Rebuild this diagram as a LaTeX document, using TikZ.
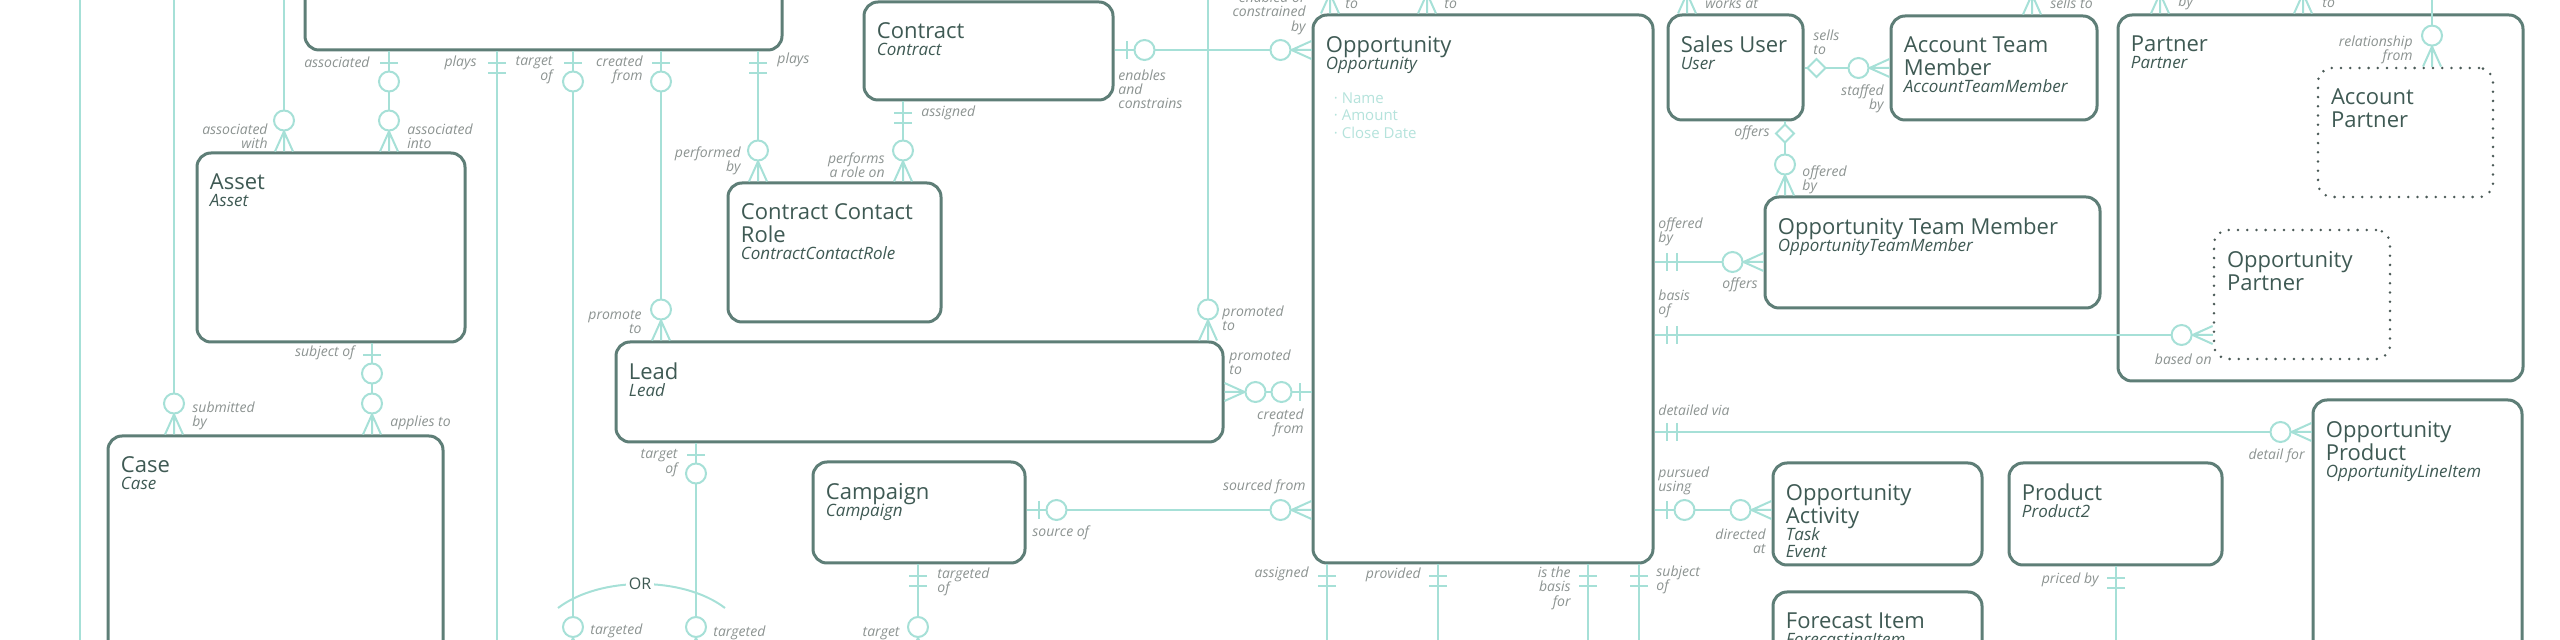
\documentclass[tikz,border=0pt]{standalone}
\usepackage{fontspec}
\setmainfont{Open Sans}
\usepackage{tikz}
\usetikzlibrary{fit,calc}
\definecolor{boxline}{HTML}{5E7E77}
\definecolor{dotline}{HTML}{4A5A57}
\definecolor{relline}{HTML}{A6E0D7}
\definecolor{labeltext}{HTML}{8C9391}
\definecolor{titletext}{HTML}{3F5A54}
\definecolor{fieldtext}{HTML}{B5E3DC}
\newcommand\api[1]{{\fontsize{8.5}{9}\selectfont\itshape #1}}

\begin{document}
\begin{tikzpicture}[
  x=0.5pt,y=-0.5pt,
  entity/.style={draw=boxline,line width=1.5pt,rounded corners=7pt,fill=white,inner sep=0pt},
  subent/.style={draw=dotline,line width=1.4pt,dash pattern=on 0pt off 4.6pt,line cap=round,rounded corners=7pt,inner sep=0pt},
  ttl/.style={anchor=north west,inner sep=0pt,align=left,text=titletext,font=\fontsize{11}{11.5}\selectfont},
  fld/.style={anchor=north west,inner sep=0pt,align=left,text=fieldtext,font=\fontsize{7.5}{8.6}\selectfont},
  rel/.style={draw=relline,line width=1pt},
  lbl/.style={inner sep=0pt,text=labeltext,font=\fontsize{7}{7.2}\selectfont\itshape},
  pics/zmany/.style={code={\draw[rel] (0,-9) -- (20,0) -- (0,9) (0,0) -- (21,0);
    \draw[rel,fill=white] (31,0) circle[radius=10];}},
  pics/zone/.style={code={\draw[rel] (12,-9) -- (12,9);
    \draw[rel,fill=white] (30,0) circle[radius=10];}},
  pics/oone/.style={code={\draw[rel] (12,-9) -- (12,9) (22,-9) -- (22,9);}},
  pics/dia/.style={code={\draw[rel,fill=white] (3,0) -- (12,-9) -- (21,0) -- (12,9) -- cycle;}}
]
\useasboundingbox (0,0) rectangle (2560,640);
\clip (0,0) rectangle (2560,640);

% entities
\node[entity,fit={(305,-40)(782,50)}] (acct) {};
\node[entity,fit={(197,153)(465,342)}] (asset) {};
\node[entity,fit={(108,436)(443,690)}] (case) {};
\node[entity,fit={(728,183)(941,322)}] (ccr) {};
\node[entity,fit={(864,2)(1113,100)}] (contract) {};
\node[entity,fit={(616,342)(1223,442)}] (lead) {};
\node[entity,fit={(813,462)(1025,563)}] (campaign) {};
\node[entity,fit={(1313,15)(1653,563)}] (opp) {};
\node[entity,fit={(1668,15)(1803,120)}] (suser) {};
\node[entity,fit={(1891,16)(2097,120)}] (atm) {};
\node[entity,fit={(1765,197)(2100,308)}] (otm) {};
\node[entity,fit={(2118,15)(2523,381)}] (partner) {};
\node[subent,fit={(2318,68)(2493,197)}] (apartner) {};
\node[subent,fit={(2214,230)(2390,359)}] (opartner) {};
\node[entity,fit={(2313,400)(2522,690)}] (oppprod) {};
\node[entity,fit={(1773,463)(1982,565)}] (oppact) {};
\node[entity,fit={(2009,463)(2222,565)}] (product) {};
\node[entity,fit={(1773,592)(1982,700)}] (fcitem) {};

% titles
\node[ttl] (asset-t) at ([shift={(14,22)}]asset.north west) {Asset\\[-3pt]\api{Asset}};
\node[ttl] (case-t) at ([shift={(14,22)}]case.north west) {Case\\[-3pt]\api{Case}};
\node[ttl] (ccr-t) at ([shift={(14,22)}]ccr.north west) {Contract Contact\\Role\\[-3pt]\api{ContractContactRole}};
\node[ttl] (contract-t) at ([shift={(14,22)}]contract.north west) {Contract\\[-3pt]\api{Contract}};
\node[ttl] (lead-t) at ([shift={(14,22)}]lead.north west) {Lead\\[-3pt]\api{Lead}};
\node[ttl] (campaign-t) at ([shift={(14,22)}]campaign.north west) {Campaign\\[-3pt]\api{Campaign}};
\node[ttl] (opp-t) at ([shift={(14,22)}]opp.north west) {Opportunity\\[-3pt]\api{Opportunity}};
\node[fld] (opp-f) at ([shift={(22,79)}]opp.north west) {· Name\\· Amount\\· Close Date};
\node[ttl] (suser-t) at ([shift={(14,22)}]suser.north west) {Sales User\\[-3pt]\api{User}};
\node[ttl] (atm-t) at ([shift={(14,22)}]atm.north west) {Account Team\\Member\\[-3pt]\api{AccountTeamMember}};
\node[ttl] (otm-t) at ([shift={(14,22)}]otm.north west) {Opportunity Team Member\\[-3pt]\api{OpportunityTeamMember}};
\node[ttl] (partner-t) at ([shift={(14,22)}]partner.north west) {Partner\\[-3pt]\api{Partner}};
\node[ttl] (apartner-t) at ([shift={(14,22)}]apartner.north west) {Account\\Partner};
\node[ttl] (opartner-t) at ([shift={(14,22)}]opartner.north west) {Opportunity\\Partner};
\node[ttl] (oppprod-t) at ([shift={(14,22)}]oppprod.north west) {Opportunity\\Product\\[-3pt]\api{OpportunityLineItem}};
\node[ttl] (oppact-t) at ([shift={(14,22)}]oppact.north west) {Opportunity\\Activity\\[-3pt]\api{Task}\\[-3pt]\api{Event}};
\node[ttl] (product-t) at ([shift={(14,22)}]product.north west) {Product\\[-3pt]\api{Product2}};
\node[ttl] (fcitem-t) at ([shift={(14,22)}]fcitem.north west) {Forecast Item\\[-3pt]\api{ForecastingItem}};

% free ends
\coordinate (top80) at (80,-10);   \coordinate (bot80) at (80,660);
\coordinate (top174) at (174,-10); \coordinate (top284) at (284,-10);
\coordinate (bot497) at (497,660); \coordinate (bot573) at (573,660);
\coordinate (bot696) at (696,660); \coordinate (bot918) at (918,660);
\coordinate (top1208) at (1208,-10);
\coordinate (top1330) at (1330,-10); \coordinate (top1427) at (1427,-10);
\coordinate (bot1327) at (1327,660); \coordinate (bot1438) at (1438,660);
\coordinate (bot1588) at (1588,660); \coordinate (bot1639) at (1639,660);
\coordinate (top1687) at (1687,-10); \coordinate (top2032) at (2032,-10);
\coordinate (top2160) at (2160,-10); \coordinate (top2303) at (2303,-10);
\coordinate (top2432) at (2432,-10); \coordinate (bot2116) at (2116,660);

% connectors
\draw[rel] (top80) -- (bot80);
\draw[rel] (top174) -- (174,0 |- case.north);
\draw[rel] (top284) -- (284,0 |- asset.north);
\draw[rel] (389,0 |- acct.south) -- (389,0 |- asset.north);
\draw[rel] (372,0 |- asset.south) -- (372,0 |- case.north);
\draw[rel] (497,0 |- acct.south) -- (bot497);
\draw[rel] (573,0 |- acct.south) -- (bot573);
\draw[rel] (661,0 |- acct.south) -- (661,0 |- lead.north);
\draw[rel] (758,0 |- acct.south) -- (758,0 |- ccr.north);
\draw[rel] (903,0 |- contract.south) -- (903,0 |- ccr.north);
\draw[rel] (top1208) -- (1208,0 |- lead.north);
\draw[rel] (0,50 -| contract.east) -- (0,50 -| opp.west);
\draw[rel] (0,392 -| lead.east) -- (0,392 -| opp.west);
\draw[rel] (696,0 |- lead.south) -- (bot696);
\draw[rel] (0,510 -| campaign.east) -- (0,510 -| opp.west);
\draw[rel] (918,0 |- campaign.south) -- (bot918);
\draw[rel] (top1330) -- (1330,0 |- opp.north);
\draw[rel] (top1427) -- (1427,0 |- opp.north);
\foreach \xx in {1327,1438,1588,1639} \draw[rel] (\xx,0 |- opp.south) -- (bot\xx);
\draw[rel] (0,262 -| opp.east) -- (0,262 -| otm.west);
\draw[rel] (0,335 -| opp.east) -- (0,335 -| opartner.west);
\draw[rel] (0,432 -| opp.east) -- (0,432 -| oppprod.west);
\draw[rel] (0,510 -| opp.east) -- (0,510 -| oppact.west);
\draw[rel] (top1687) -- (1687,0 |- suser.north);
\draw[rel] (0,68 -| suser.east) -- (0,68 -| atm.west);
\draw[rel] (1785,0 |- suser.south) -- (1785,0 |- otm.north);
\draw[rel] (top2032) -- (2032,0 |- atm.north);
\draw[rel] (top2160) -- (2160,0 |- partner.north);
\draw[rel] (top2303) -- (2303,0 |- partner.north);
\draw[rel] (top2432) -- (2432,0 |- apartner.north);
\draw[rel] (2116,0 |- product.south) -- (bot2116);

% OR arc
\draw[rel] (558,608) .. controls (600,576) and (683,576) .. (725,608);
\node[fill=white,inner sep=1.5pt,text=titletext,font=\fontsize{8}{8}\selectfont] (or) at (640,584) {OR};

% ends
\pic[rotate=90] at (174,0 |- case.north) {zmany};
\pic[rotate=90] at (284,0 |- asset.north) {zmany};
\pic[rotate=-90] at (389,0 |- acct.south) {zone};
\pic[rotate=90] at (389,0 |- asset.north) {zmany};
\pic[rotate=-90] at (372,0 |- asset.south) {zone};
\pic[rotate=90] at (372,0 |- case.north) {zmany};
\pic[rotate=-90] at (497,0 |- acct.south) {oone};
\pic[rotate=-90] at (573,0 |- acct.south) {zone};
\pic[rotate=90] at (573,658) {zmany};
\pic[rotate=-90] at (661,0 |- acct.south) {zone};
\pic[rotate=90] at (661,0 |- lead.north) {zmany};
\pic[rotate=-90] at (758,0 |- acct.south) {oone};
\pic[rotate=90] at (758,0 |- ccr.north) {zmany};
\pic[rotate=-90] at (903,0 |- contract.south) {oone};
\pic[rotate=90] at (903,0 |- ccr.north) {zmany};
\pic[rotate=90] at (1208,0 |- lead.north) {zmany};
\pic at (0,50 -| contract.east) {zone};
\pic[rotate=180] at (0,50 -| opp.west) {zmany};
\pic at (0,392 -| lead.east) {zmany};
\pic[rotate=180] at (0,392 -| opp.west) {zone};
\pic[rotate=-90] at (696,0 |- lead.south) {zone};
\pic[rotate=90] at (696,658) {zmany};
\pic at (0,510 -| campaign.east) {zone};
\pic[rotate=180] at (0,510 -| opp.west) {zmany};
\pic[rotate=-90] at (918,0 |- campaign.south) {oone};
\pic[rotate=90] at (918,658) {zmany};
\pic[rotate=90] at (1330,0 |- opp.north) {zmany};
\pic[rotate=90] at (1427,0 |- opp.north) {zmany};
\foreach \xx in {1327,1438,1588,1639} \pic[rotate=-90] at (\xx,0 |- opp.south) {oone};
\pic at (0,262 -| opp.east) {oone};
\pic[rotate=180] at (0,262 -| otm.west) {zmany};
\pic at (0,335 -| opp.east) {oone};
\pic[rotate=180] at (0,335 -| opartner.west) {zmany};
\pic at (0,432 -| opp.east) {oone};
\pic[rotate=180] at (0,432 -| oppprod.west) {zmany};
\pic at (0,510 -| opp.east) {zone};
\pic[rotate=180] at (0,510 -| oppact.west) {zmany};
\pic[rotate=90] at (1687,0 |- suser.north) {zmany};
\pic at (0,68 -| suser.east) {dia};
\pic[rotate=180] at (0,68 -| atm.west) {zmany};
\pic[rotate=-90] at (1785,0 |- suser.south) {dia};
\pic[rotate=90] at (1785,0 |- otm.north) {zmany};
\pic[rotate=90] at (2032,0 |- atm.north) {zmany};
\pic[rotate=90] at (2160,0 |- partner.north) {zmany};
\pic[rotate=90] at (2303,0 |- partner.north) {zmany};
\pic[rotate=90] at (2432,0 |- apartner.north) {zmany};
\pic[rotate=-90] at (2116,0 |- product.south) {oone};

% role labels
\node[lbl,anchor=east] (r1) at (370,62) {associated};
\node[lbl,anchor=east,align=right] (r2) at (268,136) {associated\\with};
\node[lbl,anchor=west,align=left] (r3) at (407,136) {associated\\into};
\node[lbl,anchor=east] (r4) at (477,63) {plays};
\node[lbl,anchor=east,align=right] (r5) at (553,70) {target\\of};
\node[lbl,anchor=east,align=right] (r6) at (643,70) {created\\from};
\node[lbl,anchor=west] (r7) at (777,60) {plays};
\node[lbl,anchor=east,align=right] (r8) at (741,161) {performed\\by};
\node[lbl,anchor=east,align=right] (r9) at (885,165) {performs\\a role on};
\node[lbl,anchor=west] (r10) at (921,113) {assigned};
\node[lbl,anchor=north west,align=left] (r11) at (1118,69) {enables\\and\\constrains};
\node[lbl,anchor=south east,align=right] (r12) at (1306,35) {enabled or\\constrained\\by};
\node[lbl,anchor=east,align=right] (r13) at (642,322) {promote\\to};
\node[lbl,anchor=west,align=left] (r14) at (1222,318) {promoted\\to};
\node[lbl,anchor=west,align=left] (r15) at (1229,362) {promoted\\to};
\node[lbl,anchor=east,align=right] (r16) at (1304,423) {created\\from};
\node[lbl,anchor=east,align=right] (r17) at (678,463) {target\\of};
\node[lbl,anchor=west] (r18) at (590,631) {targeted};
\node[lbl,anchor=west] (r19) at (713,633) {targeted};
\node[lbl,anchor=west] (r20) at (1032,533) {source of};
\node[lbl,anchor=east] (r21) at (1306,487) {sourced from};
\node[lbl,anchor=west,align=left] (r22) at (937,582) {targeted\\of};
\node[lbl,anchor=east] (r23) at (900,634) {target};
\node[lbl,anchor=east] (r24) at (1309,574) {assigned};
\node[lbl,anchor=east] (r25) at (1421,575) {provided};
\node[lbl,anchor=east,align=right] (r26) at (1571,588) {is the\\basis\\for};
\node[lbl,anchor=west,align=left] (r27) at (1656,580) {subject\\of};
\node[lbl,anchor=west,align=left] (r28) at (1658,232) {offered\\by};
\node[lbl,anchor=west,align=left] (r29) at (1658,304) {basis\\of};
\node[lbl,anchor=west] (r30) at (1658,410) {detailed via};
\node[lbl,anchor=west,align=left] (r31) at (1658,481) {pursued\\using};
\node[lbl,anchor=east,align=right] (r32) at (1766,541) {directed\\at};
\node[lbl,anchor=east] (r33) at (1758,285) {offers};
\node[lbl,anchor=west,align=left] (r34) at (1813,42) {sells\\to};
\node[lbl,anchor=east,align=right] (r35) at (1884,99) {staffed\\by};
\node[lbl,anchor=east] (r36) at (1770,133) {offers};
\node[lbl,anchor=west,align=left] (r37) at (1802,180) {offered\\by};
\node[lbl,anchor=west] (r38) at (2050,3) {sells to};
\node[lbl,anchor=east,align=right] (r39) at (2413,50) {relationship\\from};
\node[lbl,anchor=east] (r40) at (2212,359) {based on};
\node[lbl,anchor=east] (r41) at (2305,456) {detail for};
\node[lbl,anchor=east] (r42) at (2099,580) {priced by};
\node[lbl,anchor=east] (r43) at (355,353) {subject of};
\node[lbl,anchor=west,align=left] (r44) at (192,416) {submitted\\by};
\node[lbl,anchor=west] (r45) at (390,423) {applies to};
\node[lbl,anchor=west] (r46) at (1345,4) {to};
\node[lbl,anchor=west] (r47) at (1444,4) {to};
\node[lbl,anchor=west] (r48) at (1705,3) {works at};
\node[lbl,anchor=west] (r49) at (2178,3) {by};
\node[lbl,anchor=west] (r50) at (2322,3) {to};
\end{tikzpicture}
\end{document}
